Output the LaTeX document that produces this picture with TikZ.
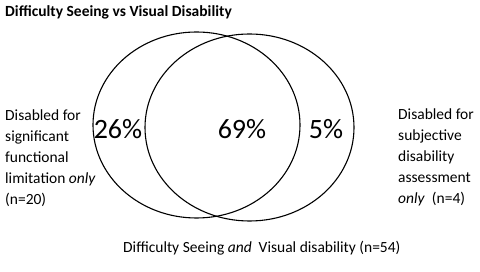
\documentclass[tikz,border=0pt]{standalone}
\usepackage{fontspec}
\setmainfont{Carlito}
\usepackage{tikz}
\usetikzlibrary{shapes.geometric, positioning}

\begin{document}
\begin{tikzpicture}[
    x=1pt, y=-1pt,
    ring/.style={draw=black, ellipse, line width=1.1pt, inner sep=0pt},
    pct/.style={inner sep=0pt, font=\fontsize{28}{30}\selectfont},
    side/.style={inner sep=0pt, align=left, font=\fontsize{15.5}{21}\selectfont},
    caption/.style={inner sep=0pt, font=\fontsize{15.5}{18}\selectfont}
  ]
  \useasboundingbox[fill=white] (0,0) rectangle (480,272);

  \node[caption, font=\fontsize{15.5}{18}\selectfont\bfseries, anchor=base west] (title) at (5,16.5) {Difficulty Seeing vs Visual Disability};

  \node[ring, minimum width=207pt, minimum height=186pt] (seeing) at (196.5,125) {};
  \node[ring, minimum width=209pt, minimum height=187pt] (visual) at (249.5,127.5) {};

  \node[pct] (left) at (118,129) {26\%};
  \node[pct] (both) at (242,129) {69\%};
  \node[pct] (right) at (326,129) {5\%};

  \node[side, anchor=base west] (funct) at (5,204.5) {Disabled for\\significant\\functional\\limitation \textit{only}\\(n=20)};
  \node[side, anchor=base west] (subj) at (398,204) {Disabled for\\subjective\\disability\\assessment\\\textit{only}~ (n=4)};

  \node[caption, anchor=base west] (total) at (123,253) {Difficulty Seeing \textit{and}~ Visual disability (n=54)};
\end{tikzpicture}
\end{document}
